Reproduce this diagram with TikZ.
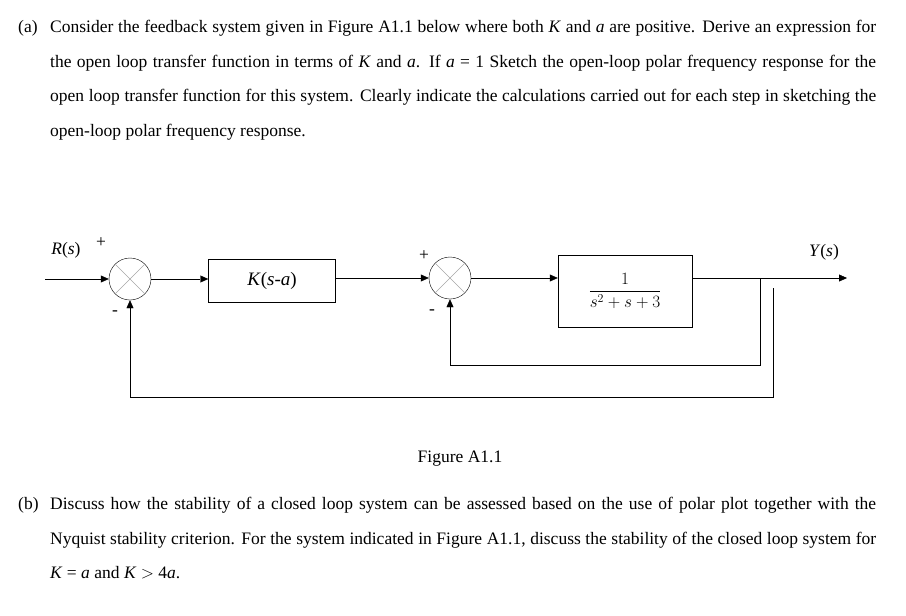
\documentclass[tikz,border=0pt]{standalone}
\usepackage{fontspec}
\setmainfont{Liberation Serif}
\usetikzlibrary{arrows.meta}
\begin{document}
\begin{tikzpicture}[x=1pt,y=-1pt,
  par/.style={anchor=north west,inner sep=0pt,text width=826pt,align=justify,font=\fontsize{17.5}{34.5}\selectfont},
  blk/.style={draw,thin,minimum height=43pt},
  sum/.style={draw,circle,minimum size=42pt,inner sep=0pt},
  arr/.style={-{Triangle[length=8pt,width=7pt]},thin},
  lbl/.style={font=\fontsize{17.5}{20}\selectfont}]
\useasboundingbox (0,0) rectangle (906,616);
\node[par,text width=30pt] (la) at (18,20) {(a)};
\node[par] (pa) at (50,20) {Consider the feedback system given in Figure A1.1 below where both \textit{K} and \textit{a} are positive. Derive an expression for the open loop transfer function in terms of \textit{K} and \textit{a}. If \textit{a} = 1 Sketch the open-loop polar frequency response for the open loop transfer function for this system. Clearly indicate the calculations carried out for each step in sketching the open-loop polar frequency response.};
\node[par,text width=30pt] (lb) at (18,497) {(b)};
\node[par] (pb) at (50,497) {Discuss how the stability of a closed loop system can be assessed based on the use of polar plot together with the Nyquist stability criterion. For the system indicated in Figure A1.1, discuss the stability of the closed loop system for \ \textit{K} = \textit{a} and \textit{K} {$>$} 4\textit{a}.};
\node[lbl] (cap) at (460,459) {Figure A1.1};
% blocks
\node[sum] (s1) at (130,279) {};
\draw[gray!70] (s1.45)--(s1.225) (s1.135)--(s1.315);
\node[blk,minimum width=127pt] (k) at (272,281) {\fontsize{19}{21}\selectfont\textit{K}(\textit{s-a})};
\node[sum] (s2) at (450,278) {};
\draw[gray!70] (s2.45)--(s2.225) (s2.135)--(s2.315);
\node[blk,minimum width=134pt,minimum height=72pt] (g) at (625,291) {};
\node[lbl] (gt) at (625,291) {$\displaystyle\frac{1}{s^2+s+3}$};
\node[lbl] (r) at (66,250) {\textit{R}(\textit{s})};
\node[lbl] (rp) at (101,243) {+};
\node[lbl] (m1) at (115,313) {-};
\node[lbl] (p2) at (424,256) {+};
\node[lbl] (m2) at (432,312) {-};
\node[lbl] (y) at (824,252) {\textit{Y}(\textit{s})};
\coordinate (in) at (45,279);
\coordinate (out) at (847,278);
\coordinate (go) at (692,278);
\coordinate (b1) at (760,278);
\coordinate (b2) at (773,288);
\draw[arr] (in) -- (s1.west);
\draw[arr] (s1.east) -- (k.west|-s1);
\draw[arr] (k.east|-s2) -- (s2.west);
\draw[arr] (s2.east) -- (g.west|-s2);
\draw[arr] (go) -- (out);
\draw[arr] (b1) -- (760,365) -- (s2.south|-0,365) -- (s2.south);
\draw[arr] (b2) -- (773,397) -- (s1.south|-0,397) -- (s1.south);
\end{tikzpicture}
\end{document}
